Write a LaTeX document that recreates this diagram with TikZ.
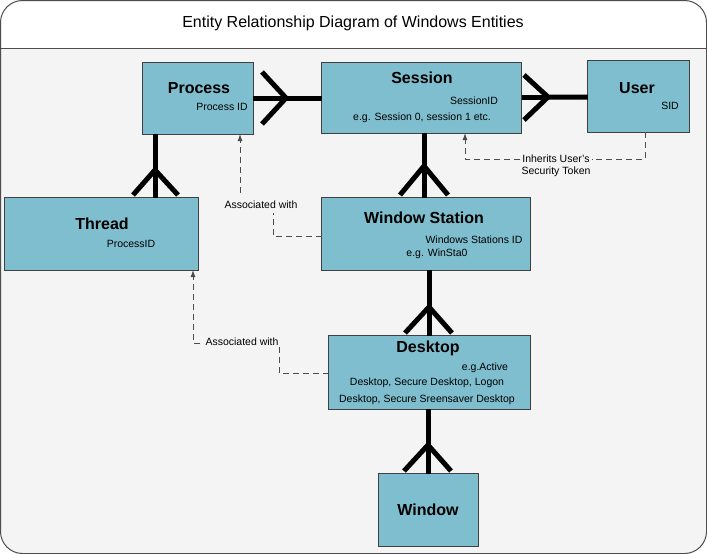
\documentclass[tikz,border=0pt]{standalone}
\usepackage{fontspec}
\setmainfont{Liberation Sans}
\usetikzlibrary{arrows.meta}
\definecolor{boxc}{RGB}{127,190,206}
\definecolor{bg}{RGB}{244,244,244}
\begin{document}
\begin{tikzpicture}[x=1pt,y=-1pt,
  box/.style={draw=black!75,line width=1pt,fill=boxc,inner sep=0pt},
  ttl/.style={font=\fontsize{16}{18}\selectfont\bfseries},
  att/.style={font=\fontsize{10.5}{12}\selectfont,align=center},
  lbl/.style={font=\fontsize{10.5}{11.5}\selectfont,align=center,inner sep=1pt},
  rel/.style={line width=5pt},
  dsh/.style={dashed,line width=0.9pt,black!70,dash pattern=on 6pt off 4pt},
  arr/.style={dsh,-{Latex[length=7pt,width=5pt]}}]
\useasboundingbox (0,0) rectangle (707,554);
\fill[bg,rounded corners=22pt] (0.5,0.5) rectangle (706.5,553.5);
\fill[white,rounded corners=22pt] (0.5,0.5) rectangle (706.5,48);
\fill[white] (0.5,30) rectangle (706.5,48);
\draw[black!70,line width=1pt,rounded corners=22pt] (0.5,553.5) rectangle (706.5,0.5);
\draw[black!70,line width=1pt] (0.5,48) -- (706.5,48);
\node[font=\fontsize{16}{18}\selectfont] (title) at (353,23) {Entity Relationship Diagram of Windows Entities};
% boxes
\node (process) at (198,98.5) [minimum width=110,minimum height=71,inner sep=0] {};
\node (session) at (421.5,98) [minimum width=199,minimum height=70,inner sep=0] {};
\node (user) at (638.5,96.5) [minimum width=101,minimum height=71,inner sep=0] {};
\node (thread) at (101.5,234) [minimum width=193,minimum height=72,inner sep=0] {};
\node (ws) at (426,234) [minimum width=208,minimum height=72,inner sep=0] {};
\node (desk) at (429.5,372.5) [minimum width=201,minimum height=73,inner sep=0] {};
\node (win) at (428.5,510) [minimum width=99,minimum height=72,inner sep=0] {};
\foreach \n in {process,session,user,thread,ws,desk,win}
  \draw[box] (\n.north west) rectangle (\n.south east);
% titles and attributes
\node[ttl] (t1) at (199,88) {Process};
\node[att] (a1) at (222,107) {Process ID};
\node[ttl] (t2) at (422,78) {Session};
\node[att] (a2) at (474,101) {SessionID};
\node[att] (a2b) at (422,118) {e.g. Session 0, session 1 etc.};
\node[ttl] (t3) at (637,88) {User};
\node[att] (a3) at (670,106) {SID};
\node[ttl] (t4) at (102,224) {Thread};
\node[att] (a4) at (131,244) {ProcessID};
\node[ttl] (t5) at (424,218) {Window Station};
\node[att] (a5) at (474,240) {Windows Stations ID};
\node[att] (a5b) at (437,254) {e.g. WinSta0};
\node[ttl] (t6) at (428,348) {Desktop};
\node[att] (a6) at (485,368) {e.g.Active};
\node[att] (a6b) at (427,383) {Desktop, Secure Desktop, Logon};
\node[att] (a6c) at (427,400) {Desktop, Secure Sreensaver Desktop};
\node[ttl] (t7) at (428,510) {Window};
% crow's feet relations
\coordinate (j1) at (286,98);
\draw[rel] (session.west |- j1) -- (j1);
\draw[rel] (262,72) -- (j1) -- (262,124); \draw[rel] (j1) -- (process.east |- j1);
\coordinate (j2) at (548,97);
\draw[rel] (user.west |- j2) -- (j2) -- (524,75); \draw[rel] (j2) -- (524,120); \draw[rel] (j2) -- (522,97);
\coordinate (j3) at (155,170);
\draw[rel] (process.south -| j3) -- (j3) -- (155,198); \draw[rel] (j3) -- (133,195); \draw[rel] (j3) -- (178,195);
\coordinate (j4) at (424,166);
\draw[rel] (session.south -| j4) -- (j4) -- (424,198); \draw[rel] (j4) -- (400,195); \draw[rel] (j4) -- (448,195);
\coordinate (j5) at (429,307);
\draw[rel] (ws.south -| j5) -- (j5) -- (429,336); \draw[rel] (j5) -- (405,333); \draw[rel] (j5) -- (452,333);
\coordinate (j6) at (428,445);
\draw[rel] (desk.south -| j6) -- (j6) -- (428,474); \draw[rel] (j6) -- (404,471); \draw[rel] (j6) -- (451,471);
% dashed associations
\node[lbl,fill=bg] (as1) at (261,205) {Associated with};
\draw[dsh] (ws.west |- 0,236) -| (273,213);
\draw[arr] (240,193) -- (240,134);
\node[lbl,fill=bg] (as2) at (242,342) {Associated with};
\draw[dsh] (desk.west |- 0,373) -| (279,347);
\draw[arr] (200,343) -| (193,270);
\node[lbl,fill=bg] (inh) at (556,166) {Inherits User's\\Security Token};
\draw[dsh] (645,132) |- (inh.east |- 0,159);
\draw[arr] (inh.west |- 0,159) -| (465,133);
\end{tikzpicture}
\end{document}
